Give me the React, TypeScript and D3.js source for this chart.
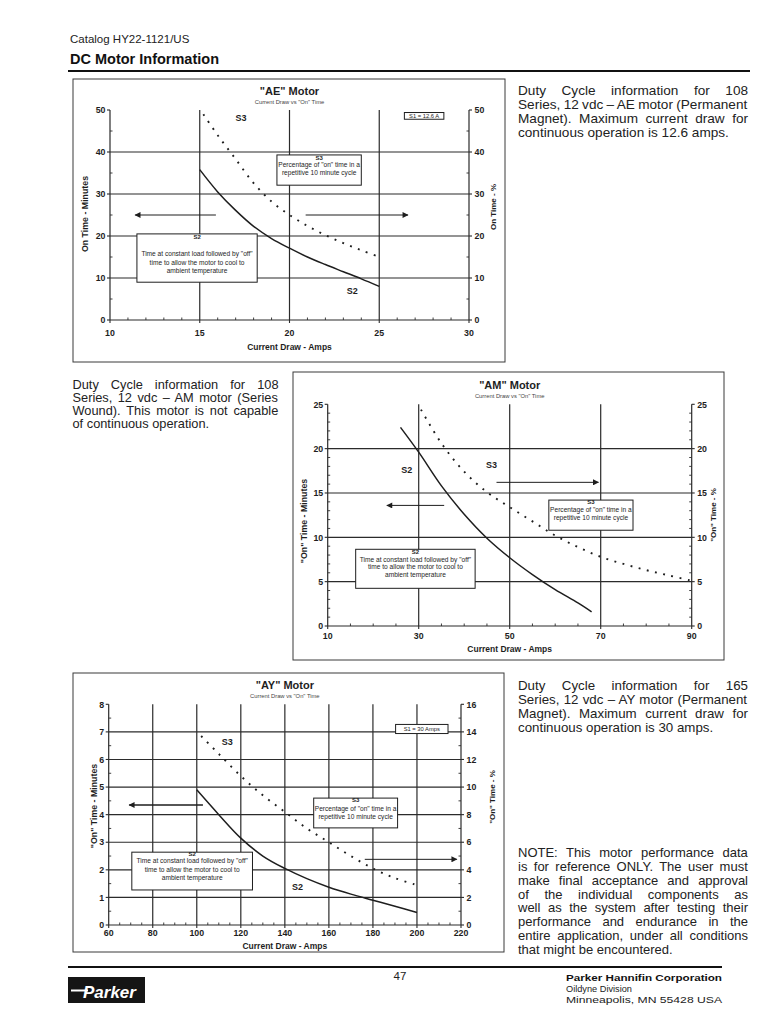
import React from "react";
import * as d3 from "d3";

// ---------- DATA ----------
// AE motor
const aeS2Amps = [15, 16, 17, 18, 19, 20, 21, 22, 23, 24, 25];
const aeS2Minutes = [35.8, 30.5, 26.1, 22.3, 19.4, 17.1, 15.0, 13.2, 11.5, 9.8, 8.0];
const aeS3Amps = [15.2, 16, 17, 18, 19, 20, 21, 22, 23, 24, 25];
const aeS3Percent = [49, 44, 38.3, 32.6, 28.2, 25, 22.4, 20.2, 18.3, 16.6, 15];
const aeXTicks = [10, 15, 20, 25, 30];
const aeYTicks = [0, 10, 20, 30, 40, 50];
const aeY2Ticks = [0, 10, 20, 30, 40, 50];

// AM motor
const amS2Amps = [26, 30, 35, 40, 45, 50, 55, 60, 65, 68];
const amS2Minutes = [22.4, 19.6, 15.8, 12.6, 9.9, 7.7, 5.8, 4.1, 2.6, 1.6];
const amS3Amps = [30.5, 35, 40, 45, 50, 55, 60, 65, 70, 75, 80, 85, 90];
const amS3Percent = [24.4, 20.6, 17.4, 15.1, 13.4, 11.8, 10.2, 8.9, 7.8, 7.0, 6.3, 5.7, 5.1];
const amXTicks = [10, 30, 50, 70, 90];
const amYTicks = [0, 5, 10, 15, 20, 25];
const amY2Ticks = [0, 5, 10, 15, 20, 25];

// AY motor
const ayS2Amps = [100, 110, 120, 130, 140, 150, 160, 170, 180, 190, 200];
const ayS2Minutes = [4.9, 4.0, 3.15, 2.5, 2.05, 1.68, 1.37, 1.12, 0.9, 0.68, 0.45];
const ayS3Amps = [102, 110, 120, 130, 140, 150, 160, 170, 180, 190, 200];
const ayS3Percent = [13.7, 12.4, 10.8, 9.4, 8.2, 7.0, 6.0, 5.0, 4.1, 3.4, 2.9];
const ayXTicks = [60, 80, 100, 120, 140, 160, 180, 200, 220];
const ayYTicks = [0, 1, 2, 3, 4, 5, 6, 7, 8];
const ayY2Ticks = [0, 2, 4, 6, 8, 10, 12, 14, 16];

// Texts
const s2Lines = ['Time at constant load followed by "off"', "time to allow the motor to cool to", "ambient temperature"];
const s3Lines = ['Percentage of "on" time in a', "repetitive 10 minute cycle"];

const para1 = [
  "Duty Cycle information for 108",
  "Series, 12 vdc – AE motor (Permanent",
  "Magnet). Maximum current draw for",
  "continuous operation is 12.6 amps.",
];
const para2 = [
  "Duty Cycle information for 108",
  "Series, 12 vdc – AM motor (Series",
  "Wound). This motor is not capable",
  "of continuous operation.",
];
const para3 = [
  "Duty Cycle information for 165",
  "Series, 12 vdc – AY motor (Permanent",
  "Magnet). Maximum current draw for",
  "continuous operation is 30 amps.",
];
const noteLines = [
  "NOTE: This motor performance data",
  "is for reference ONLY. The user must",
  "make final acceptance and approval",
  "of the individual components as",
  "well as the system after testing their",
  "performance and endurance in the",
  "entire application, under all conditions",
  "that might be encountered.",
];

// ---------- LAYOUT / STYLE ----------
const FONT = "'Liberation Sans', Arial, Helvetica, sans-serif";
const INK = "#1e1e1e";

type Pt = [number, number];
const zip = (a: number[], b: number[]): Pt[] => a.map((v, i) => [v, b[i]]);

type Cfg = {
  box: [number, number, number, number];
  plot: { l: number; r: number; t: number; b: number };
  xDomain: [number, number];
  yDomain: [number, number];
  y2Domain: [number, number];
  xTicks: number[];
  yTicks: number[];
  y2Ticks: number[];
  xMinor: number;
  yMinor: number;
  y2Minor: number;
  title: string;
  yTitle: string;
  y2Title: string;
  xTickY: number;
  xTitleY: number;
  yTitlePos: [number, number];
  y2TitlePos: [number, number];
  s2: Pt[];
  s3: Pt[];
  arrows: { x1: number; x2: number; y: number; w: number }[];
  s2Box: { x: [number, number]; y: [number, number]; off: number[] };
  s3Box: { x: [number, number]; y: [number, number]; off: number[] };
  s1?: { x: [number, number]; y: [number, number]; text: string };
  labels: { t: string; x: number; y: number }[];
};

const charts: Cfg[] = [
  {
    box: [73, 79, 432, 283],
    plot: { l: 110, r: 469, t: 110, b: 320 },
    xDomain: [10, 30],
    yDomain: [0, 50],
    y2Domain: [0, 50],
    xTicks: aeXTicks,
    yTicks: aeYTicks,
    y2Ticks: aeY2Ticks,
    xMinor: 1,
    yMinor: 5,
    y2Minor: 5,
    title: '"AE" Motor',
    yTitle: "On Time - Minutes",
    y2Title: "On Time - %",
    xTickY: 336,
    xTitleY: 350,
    yTitlePos: [88, 214],
    y2TitlePos: [496, 207],
    s2: zip(aeS2Amps, aeS2Minutes),
    s3: zip(aeS3Amps, aeS3Percent),
    arrows: [
      { x1: 15.9, x2: 11.4, y: 25, w: 1 },
      { x1: 20.9, x2: 26.6, y: 25, w: 1 },
    ],
    s2Box: { x: [11.5, 18.2], y: [20.5, 9.0], off: [3.3, 19.3, 28.3, 36.3] },
    s3Box: { x: [19.3, 24.0], y: [39.3, 32.1], off: [2.7, 10.2, 17.9] },
    s1: { x: [26.4, 28.6], y: [49.4, 47.8], text: "S1 = 12.6 A" },
    labels: [
      { t: "S3", x: 17.3, y: 48.1 },
      { t: "S2", x: 23.5, y: 6.9 },
    ],
  },
  {
    box: [293, 372, 431, 288],
    plot: { l: 327.7, r: 691.7, t: 404.3, b: 626 },
    xDomain: [10, 90],
    yDomain: [0, 25],
    y2Domain: [0, 25],
    xTicks: amXTicks,
    yTicks: amYTicks,
    y2Ticks: amY2Ticks,
    xMinor: 5,
    yMinor: 1,
    y2Minor: 1,
    title: '"AM" Motor',
    yTitle: '"On" Time - Minutes',
    y2Title: '"On" Time - %',
    xTickY: 639,
    xTitleY: 652,
    yTitlePos: [307, 521],
    y2TitlePos: [716, 515],
    s2: zip(amS2Amps, amS2Minutes),
    s3: zip(amS3Amps, amS3Percent),
    arrows: [
      { x1: 35.6, x2: 23, y: 13.6, w: 1 },
      { x1: 47.1, x2: 69.5, y: 16.2, w: 1 },
    ],
    s2Box: { x: [16.15, 42.4], y: [8.65, 4.25], off: [2.3, 10, 17.3, 25.7] },
    s3Box: { x: [58.6, 77.1], y: [14.2, 10.8], off: [1.7, 9.3, 17.3] },
    labels: [
      { t: "S2", x: 27.4, y: 17.6 },
      { t: "S3", x: 46, y: 18.2 },
    ],
  },
  {
    box: [73, 673, 431, 279],
    plot: { l: 108.7, r: 461, t: 704.3, b: 925 },
    xDomain: [60, 220],
    yDomain: [0, 8],
    y2Domain: [0, 16],
    xTicks: ayXTicks,
    yTicks: ayYTicks,
    y2Ticks: ayY2Ticks,
    xMinor: 5,
    yMinor: 0.5,
    y2Minor: 1,
    title: '"AY" Motor',
    yTitle: '"On" Time - Minutes',
    y2Title: '"On" Time - %',
    xTickY: 936,
    xTitleY: 949,
    yTitlePos: [96.5, 806],
    y2TitlePos: [495, 797],
    s2: zip(ayS2Amps, ayS2Minutes),
    s3: zip(ayS3Amps, ayS3Percent),
    arrows: [
      { x1: 102.8, x2: 69.3, y: 4.35, w: 1.7 },
      { x1: 176.3, x2: 218.1, y: 2.38, w: 1 },
    ],
    s2Box: { x: [70.5, 125.3], y: [2.64, 1.27], off: [1.7, 9, 17.3, 25.7] },
    s3Box: { x: [153.1, 191.2], y: [4.6, 3.52], off: [2.3, 11, 18.7] },
    s1: { x: [190.3, 214.1], y: [7.27, 6.94], text: "S1 = 30 Amps" },
    labels: [
      { t: "S3", x: 113.9, y: 6.64 },
      { t: "S2", x: 145.8, y: 1.39 },
    ],
  },
];

const minorVals = (dom: [number, number], step: number, majors: number[]) =>
  d3
    .range(dom[0], dom[1] + 1e-9, step)
    .filter((v) => !majors.some((m) => Math.abs(m - v) < 1e-6));

function Chart({ c }: { c: Cfg }) {
  const { plot } = c;
  const x = d3.scaleLinear().domain(c.xDomain).range([plot.l, plot.r]);
  const y = d3.scaleLinear().domain(c.yDomain).range([plot.b, plot.t]);
  const y2 = d3.scaleLinear().domain(c.y2Domain).range([plot.b, plot.t]);
  const s2Line = d3
    .line<Pt>()
    .x((d) => x(d[0]))
    .y((d) => y(d[1]))
    .curve(d3.curveCatmullRom.alpha(0.5));
  const s3Line = d3
    .line<Pt>()
    .x((d) => x(d[0]))
    .y((d) => y2(d[1]))
    .curve(d3.curveCatmullRom.alpha(0.5));
  const gridStroke = "#2b2b2b";
  const cx = (plot.l + plot.r) / 2;
  const xMinorTicks = minorVals(c.xDomain, c.xMinor, c.xTicks);
  const yMinorTicks = minorVals(c.yDomain, c.yMinor, c.yTicks);
  const y2MinorTicks = minorVals(c.y2Domain, c.y2Minor, c.y2Ticks);
  const [bx, by, bw, bh] = c.box;

  const annBox = (
    b: { x: [number, number]; y: [number, number]; off: number[] },
    head: string,
    lines: string[]
  ) => {
    const x0 = x(b.x[0]);
    const x1 = x(b.x[1]);
    const yt = y(b.y[0]);
    const yb = y(b.y[1]);
    const mid = (x0 + x1) / 2;
    return (
      <g>
        <rect x={x0} y={yt} width={x1 - x0} height={yb - yt} fill="#fff" stroke={INK} strokeWidth={1} />
        <text x={mid} y={yt + b.off[0] + 2} textAnchor="middle" fontSize={6} fontWeight="bold" fill={INK}>
          {head}
        </text>
        {lines.map((l, i) => (
          <text key={i} x={mid} y={yt + b.off[i + 1] + 2.3} textAnchor="middle" fontSize={6.6} fill={INK}>
            {l}
          </text>
        ))}
      </g>
    );
  };

  return (
    <g fontFamily={FONT}>
      <rect x={bx} y={by} width={bw} height={bh} fill="#fff" stroke="#3a3a3a" strokeWidth={1} />
      <text x={cx} y={plot.t - 15} textAnchor="middle" fontSize={11} fontWeight="bold" fill={INK}>
        {c.title}
      </text>
      <text x={cx} y={plot.t - 6} textAnchor="middle" fontSize={5.8} fill="#444">
        {'Current Draw vs "On" Time'}
      </text>

      {c.yTicks.slice(1, -1).map((v) => (
        <line key={"hg" + v} x1={plot.l} x2={plot.r} y1={y(v)} y2={y(v)} stroke={gridStroke} strokeWidth={1.2} />
      ))}
      {c.xTicks.slice(1, -1).map((v) => (
        <line key={"vg" + v} x1={x(v)} x2={x(v)} y1={plot.t} y2={plot.b} stroke={gridStroke} strokeWidth={1.2} />
      ))}
      <line x1={plot.l} x2={plot.l} y1={plot.t} y2={plot.b} stroke={gridStroke} strokeWidth={1.2} />
      <line x1={plot.r} x2={plot.r} y1={plot.t} y2={plot.b} stroke={gridStroke} strokeWidth={1.2} />
      <line x1={plot.l} x2={plot.r} y1={plot.b} y2={plot.b} stroke={gridStroke} strokeWidth={1.2} />

      {c.yTicks.map((v) => (
        <line key={"yt" + v} x1={plot.l - 3} x2={plot.l} y1={y(v)} y2={y(v)} stroke={gridStroke} strokeWidth={1.1} />
      ))}
      {c.y2Ticks.map((v) => (
        <line key={"y2t" + v} x1={plot.r} x2={plot.r + 3} y1={y2(v)} y2={y2(v)} stroke={gridStroke} strokeWidth={1.1} />
      ))}
      {c.xTicks.map((v) => (
        <line key={"xt" + v} x1={x(v)} x2={x(v)} y1={plot.b} y2={plot.b + 3} stroke={gridStroke} strokeWidth={1.1} />
      ))}
      {xMinorTicks.map((v) => (
        <line key={"xm" + v} x1={x(v)} x2={x(v)} y1={plot.b - 2.5} y2={plot.b} stroke={gridStroke} strokeWidth={0.9} />
      ))}
      {yMinorTicks.map((v) => (
        <line key={"ym" + v} x1={plot.l} x2={plot.l + 2.5} y1={y(v)} y2={y(v)} stroke={gridStroke} strokeWidth={0.9} />
      ))}
      {y2MinorTicks.map((v) => (
        <line key={"y2m" + v} x1={plot.r - 2.5} x2={plot.r} y1={y2(v)} y2={y2(v)} stroke={gridStroke} strokeWidth={0.9} />
      ))}

      {c.yTicks.map((v) => (
        <text key={"yl" + v} x={plot.l - 4.5} y={y(v) + 3.2} textAnchor="end" fontSize={8.8} fontWeight="bold" fill={INK}>
          {v}
        </text>
      ))}
      {c.y2Ticks.map((v) => (
        <text key={"y2l" + v} x={plot.r + 5.5} y={y2(v) + 3.2} textAnchor="start" fontSize={8.8} fontWeight="bold" fill={INK}>
          {v}
        </text>
      ))}
      {c.xTicks.map((v) => (
        <text key={"xl" + v} x={x(v)} y={c.xTickY} textAnchor="middle" fontSize={8.8} fontWeight="bold" fill={INK}>
          {v}
        </text>
      ))}
      <text x={cx} y={c.xTitleY} textAnchor="middle" fontSize={8.5} fontWeight="bold" fill={INK}>
        Current Draw - Amps
      </text>
      <text
        transform={`translate(${c.yTitlePos[0]},${c.yTitlePos[1]}) rotate(-90)`}
        textAnchor="middle"
        fontSize={8.8}
        fontWeight="bold"
        fill={INK}
      >
        {c.yTitle}
      </text>
      <text
        transform={`translate(${c.y2TitlePos[0]},${c.y2TitlePos[1]}) rotate(-90)`}
        textAnchor="middle"
        fontSize={8}
        fontWeight="bold"
        fill={INK}
      >
        {c.y2Title}
      </text>

      <path d={s3Line(c.s3) || ""} fill="none" stroke={INK} strokeWidth={1.9} strokeDasharray="1.9 6.5" />
      <path d={s2Line(c.s2) || ""} fill="none" stroke={INK} strokeWidth={1.5} />

      {c.arrows.map((a, i) => (
        <line
          key={"ar" + i}
          x1={x(a.x1)}
          x2={x(a.x2)}
          y1={y(a.y)}
          y2={y(a.y)}
          stroke={INK}
          strokeWidth={a.w}
          markerEnd="url(#arrowHead)"
        />
      ))}

      {annBox(c.s2Box, "S2", s2Lines)}
      {annBox(c.s3Box, "S3", s3Lines)}
      {c.s1 && (
        <g>
          <rect
            x={x(c.s1.x[0])}
            y={y(c.s1.y[0])}
            width={x(c.s1.x[1]) - x(c.s1.x[0])}
            height={y(c.s1.y[1]) - y(c.s1.y[0])}
            fill="#fff"
            stroke={INK}
            strokeWidth={1}
          />
          <text
            x={(x(c.s1.x[0]) + x(c.s1.x[1])) / 2}
            y={(y(c.s1.y[0]) + y(c.s1.y[1])) / 2 + 2}
            textAnchor="middle"
            fontSize={5.8}
            fill={INK}
          >
            {c.s1.text}
          </text>
        </g>
      )}
      {c.labels.map((l, i) => (
        <text key={"lb" + i} x={x(l.x)} y={y(l.y) + 3.3} textAnchor="middle" fontSize={9} fontWeight="bold" fill={INK}>
          {l.t}
        </text>
      ))}
    </g>
  );
}

let ctx: CanvasRenderingContext2D | null = null;
function measure(text: string, font: string) {
  if (!ctx) ctx = document.createElement("canvas").getContext("2d");
  if (!ctx) return text.length * 6;
  ctx.font = font;
  return ctx.measureText(text).width;
}

function Para({
  lines,
  x,
  y0,
  dy,
  width,
  fs,
}: {
  lines: string[];
  x: number;
  y0: number;
  dy: number;
  width: number;
  fs: number;
}) {
  const font = `${fs}px 'Liberation Sans'`;
  return (
    <g fontFamily={FONT} fontSize={fs} fill="#222">
      {lines.map((l, i) => {
        const last = i === lines.length - 1;
        const spaces = (l.match(/ /g) || []).length;
        const w = measure(l, font);
        const ws = last || spaces === 0 ? 0 : (width - w) / spaces;
        return (
          <text key={i} x={x} y={y0 + i * dy} wordSpacing={ws} style={{ whiteSpace: "pre" }}>
            {l}
          </text>
        );
      })}
    </g>
  );
}

export default function App() {
  return (
    <svg
      width={768}
      height={1024}
      viewBox="0 0 768 1024"
      style={{ position: "absolute", left: 0, top: 0, background: "#fff" }}
    >
      <defs>
        <marker
          id="arrowHead"
          viewBox="0 0 10 10"
          refX={9}
          refY={5}
          markerWidth={8}
          markerHeight={6}
          markerUnits="userSpaceOnUse"
          orient="auto"
        >
          <path d="M0,0 L10,5 L0,10 z" fill={INK} />
        </marker>
      </defs>
      <rect x={0} y={0} width={768} height={1024} fill="#fff" />

      <text x={70} y={43} fontFamily={FONT} fontSize={11.5} fill="#222">
        Catalog HY22-1121/US
      </text>
      <text x={70} y={64} fontFamily={FONT} fontSize={14.5} fontWeight="bold" fill="#111">
        DC Motor Information
      </text>
      <line x1={68} x2={750} y1={71} y2={71} stroke="#111" strokeWidth={2} />

      {charts.map((c, i) => (
        <Chart key={i} c={c} />
      ))}

      <Para lines={para1} x={518} y0={94.5} dy={14} width={230} fs={13.6} />
      <Para lines={para2} x={72.5} y0={388.5} dy={13.2} width={206} fs={12.8} />
      <Para lines={para3} x={518} y0={689.5} dy={14} width={230} fs={13.3} />
      <Para lines={noteLines} x={518} y0={857.2} dy={13.8} width={230} fs={13} />

      <line x1={68} x2={722} y1={967} y2={967} stroke="#111" strokeWidth={2} />
      <rect x={68} y={977} width={77} height={26} fill="#151515" />
      <line x1={71} x2={88} y1={990.5} y2={990.5} stroke="#fff" strokeWidth={2} />
      <text x={83} y={998} fontFamily={FONT} fontSize={17} fontWeight="bold" fontStyle="italic" fill="#fff">
        Parker
      </text>
      <text x={400} y={980} textAnchor="middle" fontFamily={FONT} fontSize={11.5} fill="#222">
        47
      </text>
      <text x={566} y={981} fontFamily={FONT} fontSize={9.5} fontWeight="bold" fill="#111" textLength={156} lengthAdjust="spacingAndGlyphs">
        Parker Hannifin Corporation
      </text>
      <text x={566} y={992} fontFamily={FONT} fontSize={9.5} fill="#222" textLength={66} lengthAdjust="spacingAndGlyphs">
        Oildyne Division
      </text>
      <text x={566} y={1003} fontFamily={FONT} fontSize={9.5} fill="#222" textLength={156} lengthAdjust="spacingAndGlyphs">
        Minneapolis, MN 55428 USA
      </text>
    </svg>
  );
}
